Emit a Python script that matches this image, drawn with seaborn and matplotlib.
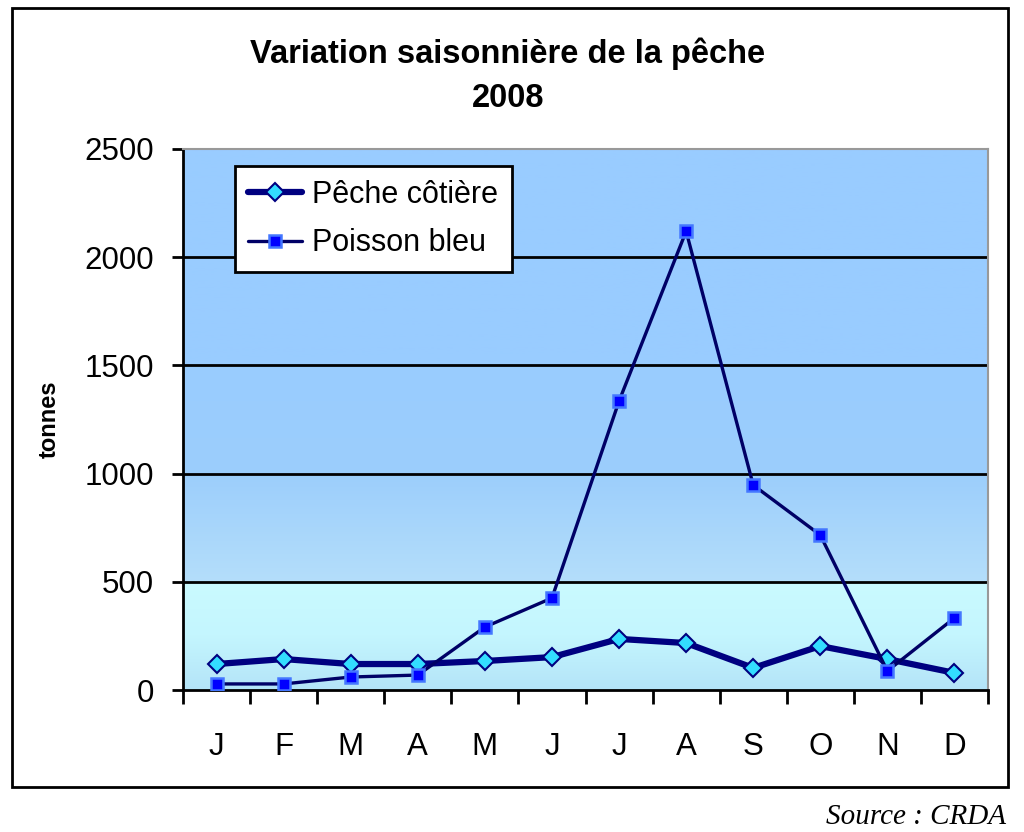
import matplotlib
matplotlib.use('Agg')
import matplotlib.pyplot as plt
from matplotlib.patches import Rectangle
import numpy as np
import pandas as pd
import seaborn as sns

# données (tonnes)
mois = ['J', 'F', 'M', 'A', 'M', 'J', 'J', 'A', 'S', 'O', 'N', 'D']
peche_cotiere = [120, 143, 120, 120, 134, 152, 236, 217, 102, 203, 143, 79]
poisson_bleu = [28, 28, 60, 69, 291, 425, 1335, 2120, 947, 716, 88, 333]

df = pd.DataFrame({
    'pos': list(range(len(mois))) * 2,
    'tonnes': peche_cotiere + poisson_bleu,
    'serie': ['Pêche côtière'] * len(mois) + ['Poisson bleu'] * len(mois),
})

sns.set_style('white')
plt.rcParams['font.family'] = ['Liberation Sans', 'DejaVu Sans']
plt.rcParams['text.color'] = 'black'
plt.rcParams['xtick.color'] = 'black'
plt.rcParams['ytick.color'] = 'black'
plt.rcParams['axes.labelcolor'] = 'black'

fig = plt.figure(figsize=(10.24, 8.32), dpi=100)
ax = fig.add_axes([183/1024, 1 - 690/832, (988-183)/1024, (690-149)/832])

# fond dégradé de la zone de tracé
stops_y = [0, 1, 250, 498, 502, 1000, 1500, 2500]
stops_c = np.array([[0xB4, 0xE4, 0xF8], [0xB4, 0xE4, 0xF8], [0xC4, 0xF6, 0xFE], [0xCA, 0xFA, 0xFF],
                    [0xB4, 0xDE, 0xFA], [0x9C, 0xCE, 0xFC], [0x99, 0xCC, 0xFF], [0x99, 0xCC, 0xFF]]) / 255
yy = np.linspace(0, 2500, 500)
grad = np.stack([np.interp(yy, stops_y, stops_c[:, k]) for k in range(3)], axis=-1)[:, None, :]
ax.imshow(grad, extent=[-0.5, 11.5, 0, 2500], origin='lower', aspect='auto', zorder=0)

for g in [500, 1000, 1500, 2000]:
    ax.axhline(g, color='black', lw=2, zorder=1)

sns.lineplot(data=df[df.serie == 'Pêche côtière'], x='pos', y='tonnes', ax=ax, sort=False,
             color='#000080', lw=4.5, marker='D', markersize=9, markerfacecolor='#33DDFF',
             markeredgecolor='#000080', markeredgewidth=1.5, label='Pêche côtière', zorder=3)
sns.lineplot(data=df[df.serie == 'Poisson bleu'], x='pos', y='tonnes', ax=ax, sort=False,
             color='#000066', lw=2.4, marker='s', markersize=9, markerfacecolor='#0000FF',
             markeredgecolor='#4477FF', markeredgewidth=1.8, label='Poisson bleu', zorder=4)

ax.set_xlim(-0.5, 11.5)
ax.set_ylim(0, 2500)
ax.set_yticks(range(0, 2501, 500))
ax.set_xticks(range(len(mois)))
ax.set_xticklabels(mois)
ax.set_xticks(np.arange(-0.5, 12, 1), minor=True)
ax.tick_params(axis='x', which='major', length=0, pad=30, labelsize=22.5)
ax.tick_params(axis='x', which='minor', length=10, width=2, color='black', direction='out', bottom=True)
ax.tick_params(axis='y', length=8, width=2, color='black', direction='out', left=True, labelsize=22.5, pad=13)
ax.set_xlabel('')
ax.set_ylabel('tonnes', fontsize=17, fontweight='bold', labelpad=17)

for side in ['left', 'bottom']:
    ax.spines[side].set_color('black')
    ax.spines[side].set_linewidth(2)
for side in ['top', 'right']:
    ax.spines[side].set_color('#999999')
    ax.spines[side].set_linewidth(1.5)

leg = ax.legend(loc='upper left', bbox_to_anchor=(0.064, 0.968), fontsize=22, frameon=True,
                fancybox=False, framealpha=1, edgecolor='black', borderpad=0.45,
                handlelength=1.75, handletextpad=0.35, labelspacing=0.6, borderaxespad=0)
leg.get_frame().set_linewidth(2)

fig.text(0.5 * (253 + 763) / 1024, 1 - 76/832, 'Variation saisonnière de la pêche\n2008',
         ha='center', va='center', fontsize=23.5, fontweight='bold', linespacing=1.55)
fig.text(1006/1024, 1 - 817/832, 'Source : CRDA', ha='right', va='center',
         fontsize=21, style='italic', family='Liberation Serif')

fig.patches.append(Rectangle((12/1024, 1 - 787/832), (1008-12)/1024, (787-8)/832,
                             transform=fig.transFigure, fill=False, edgecolor='black', lw=2))

fig.savefig('out.png', dpi=100)
